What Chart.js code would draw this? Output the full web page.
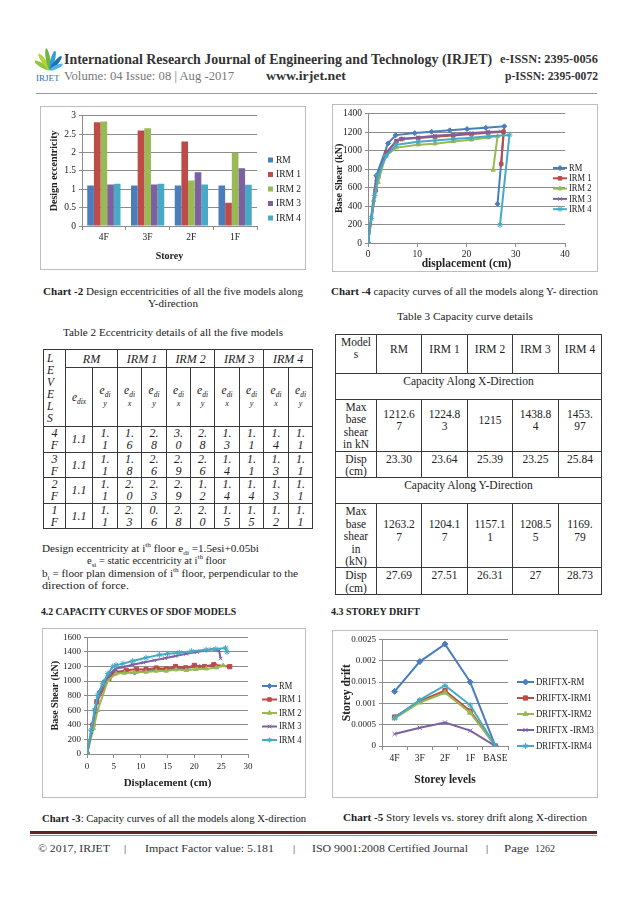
<!DOCTYPE html>
<html>
<head>
<meta charset="utf-8">
<script src="https://cdn.jsdelivr.net/npm/chart.js@4.4.0/dist/chart.umd.min.js"></script>
<style>
body{margin:0;background:#fff;}
#page{position:relative;width:638px;height:902px;overflow:hidden;background:#fff;font-family:'Liberation Serif',serif;color:#222;}
.t{position:absolute;white-space:nowrap;font-size:11px;line-height:13px;transform-origin:0 50%;}
.box{position:absolute;border:1px solid #bdbdbd;background:#fff;}
.box canvas{position:absolute;left:0;top:0;}
table{position:absolute;border-collapse:collapse;table-layout:fixed;font-family:'Liberation Serif',serif;color:#222;}
td{border:1px solid #3a3a3a;padding:0;text-align:center;overflow:hidden;}
#t2 td{font-style:italic;font-size:11.5px;line-height:12px;vertical-align:middle;}
#t3 td{font-size:11.5px;line-height:12.4px;vertical-align:top;}
sub,sup{font-size:65%;line-height:0;}
.sm{font-size:8px;}
</style>
</head>
<body>
<div id="page">

<!-- header -->
<svg style="position:absolute;left:35px;top:43px" width="30" height="40" viewBox="0 0 30 40">
  <g transform="translate(15,27)">
    <ellipse rx="2.2" ry="9" transform="rotate(-60) translate(0,-9)" fill="#8cc63f"/>
    <ellipse rx="2.2" ry="10" transform="rotate(-35) translate(0,-10)" fill="#b5d334"/>
    <ellipse rx="2.2" ry="11" transform="rotate(-10) translate(0,-11)" fill="#6fb43f"/>
    <ellipse rx="2.2" ry="10" transform="rotate(15) translate(0,-10)" fill="#2e9fd8"/>
    <ellipse rx="2.2" ry="9" transform="rotate(40) translate(0,-9)" fill="#1f6fb5"/>
    <ellipse rx="2" ry="7" transform="rotate(65) translate(0,-7)" fill="#4bb6e0"/>
  </g>
  <text x="1" y="38" font-family="Liberation Serif" font-size="9" fill="#2a6ebb">IRJET</text>
</svg>
<div class="t" style="left:64px;top:52px;font-size:15px;line-height:15px;font-weight:bold;color:#333" data-w="428">International Research Journal of Engineering and Technology (IRJET)</div>
<div class="t" style="left:500px;top:53px;font-size:11.5px;font-weight:bold;color:#333" data-w="98">e-ISSN: 2395-0056</div>
<div class="t" style="left:64px;top:70px;font-size:11.5px;color:#777" data-w="170">Volume: 04 Issue: 08 | Aug -2017</div>
<div class="t" style="left:266px;top:70px;font-size:11.5px;font-weight:bold;color:#333" data-w="80">www.irjet.net</div>
<div class="t" style="left:505px;top:70px;font-size:11.5px;font-weight:bold;color:#333" data-w="93">p-ISSN: 2395-0072</div>
<div style="position:absolute;left:36px;top:93px;width:561px;height:1px;background:#9a9a9a"></div>

<!-- charts -->
<div class="box" style="left:40px;top:106px;width:264px;height:162px"><canvas id="c2"></canvas></div>
<div class="box" style="left:332px;top:104px;width:264px;height:166px"><canvas id="c4"></canvas></div>
<div class="box" style="left:42px;top:628px;width:262px;height:168px"><canvas id="c3"></canvas></div>
<div class="box" style="left:332px;top:630px;width:264px;height:166px"><canvas id="c5"></canvas></div>

<!-- captions and text -->
<div class="t" style="left:43px;top:285px" data-w="260"><b>Chart -2</b> Design eccentricities of all the five models along</div>
<div class="t" style="left:148px;top:297px" data-w="50">Y-direction</div>
<div class="t" style="left:331px;top:285px" data-w="267"><b>Chart -4</b> capacity curves of all the models along Y- direction</div>
<div class="t" style="left:63px;top:326px" data-w="220">Table 2 Eccentricity details of all the five models</div>
<div class="t" style="left:397px;top:310px" data-w="136">Table 3 Capacity curve details</div>

<table id="t2" style="left:43px;top:349px;width:269px"></table>
<table id="t3" style="left:335px;top:334px;width:266px"></table>

<div class="t" style="left:42px;top:542px" data-w="217">Design eccentricity at i<sup>th</sup> floor e<sub>di</sub> =1.5esi+0.05bi</div>
<div class="t" style="left:87px;top:554px" data-w="139">e<sub>si</sub> = static eccentricity at i<sup>th</sup> floor</div>
<div class="t" style="left:42px;top:567px" data-w="256">b<sub>i</sub> = floor plan dimension of i<sup>th</sup> floor, perpendicular to the</div>
<div class="t" style="left:42px;top:579px" data-w="87">direction of force.</div>

<div class="t" style="left:41px;top:605px;font-weight:bold" data-w="195">4.2 CAPACITY CURVES OF SDOF MODELS</div>
<div class="t" style="left:331px;top:605px;font-weight:bold" data-w="89">4.3 STOREY DRIFT</div>

<div class="t" style="left:42px;top:812px" data-w="264"><b>Chart -3</b>: Capacity curves of all the models along X-direction</div>
<div class="t" style="left:343px;top:811px" data-w="244"><b>Chart -5</b> Story levels vs. storey drift along X-direction</div>

<!-- footer -->
<div style="position:absolute;left:30px;top:831px;width:567px;height:3px;background:#5e2323"></div>
<div style="position:absolute;left:30px;top:835px;width:567px;height:1px;background:#b08080"></div>
<div class="t" style="left:38px;top:842px;color:#333" data-w="72">© 2017, IRJET</div>
<div class="t" style="left:124px;top:842px;color:#333">|</div>
<div class="t" style="left:145px;top:842px;color:#333" data-w="129">Impact Factor value: 5.181</div>
<div class="t" style="left:293px;top:842px;color:#333">|</div>
<div class="t" style="left:312px;top:842px;color:#333" data-w="156">ISO 9001:2008 Certified Journal</div>
<div class="t" style="left:486px;top:842px;color:#333">|</div>
<div class="t" style="left:504px;top:842px;color:#333" data-w="25">Page</div>
<div class="t" style="left:535px;top:842px;color:#333" data-w="20">1262</div>
</div>

<script>
// ---- chart 2: design eccentricity, Y-direction
const storeys = ['4F', '3F', '2F', '1F'];
const eccRM = [1.1, 1.1, 1.1, 1.1];
const eccIRM1 = [2.82, 2.6, 2.3, 0.63];
const eccIRM2 = [2.84, 2.66, 1.24, 1.99];
const eccIRM3 = [1.13, 1.13, 1.46, 1.57];
const eccIRM4 = [1.15, 1.15, 1.13, 1.12];

// ---- chart 4: capacity curves, Y-direction (disp cm / base shear kN)
const rmYDisp = [0, 1.7, 4.07, 5.63, 9.5, 12.9, 16.6, 20.1, 23.9, 27.69, 26.3];
const rmYShear = [0, 730, 1079, 1168, 1190, 1205, 1220, 1234, 1248, 1263.27, 424];
const irm1YDisp = [0, 1.57, 2.04, 3.7, 5.77, 6.8, 10.2, 13.6, 17.3, 21.0, 24.4, 27.51, 27.05];
const irm1YShear = [0, 570, 712, 980, 1104, 1125, 1136, 1150, 1165, 1180, 1195, 1204.17, 855];
const irm2YDisp = [0, 1.16, 2.04, 3.6, 5.77, 10.2, 13.6, 17.3, 21.0, 24.4, 26.31, 25.4];
const irm2YShear = [0, 463, 659, 944, 1033, 1065, 1075, 1100, 1118, 1143, 1157.11, 791];
const irm3YDisp = [0, 1.7, 3.7, 5.77, 7.1, 10.2, 13.6, 17.3, 21.0, 24.4, 27];
const irm3YShear = [0, 695, 962, 1110, 1130, 1142, 1160, 1175, 1190, 1202, 1208.55];
const irm4YDisp = [0, 0.68, 1.36, 2.04, 3.7, 5.77, 10.2, 13.6, 17.3, 21.0, 24.4, 28.73, 26.8];
const irm4YShear = [0, 267, 516, 730, 944, 1065, 1095, 1110, 1125, 1140, 1155, 1169.79, 196];

// ---- chart 3: capacity curves, X-direction
const rmXDisp = [0, 0.9, 1.5, 2.2, 3.2, 4.3, 5.2, 7.0, 8.85, 11.0, 13.5, 16.0, 18.5, 21.0, 23.3];
const rmXShear = [0, 330, 620, 850, 1000, 1100, 1140, 1125, 1112, 1140, 1160, 1170, 1185, 1200, 1212.67];
const irm1XDisp = [0, 1.09, 1.83, 4.07, 5.1, 7.3, 9.2, 11.0, 12.9, 14.75, 16.5, 18.4, 20.0, 21.9, 23.64, 26.6];
const irm1XShear = [0, 397, 716, 1035, 1112, 1149, 1162, 1158, 1180, 1168, 1200, 1182, 1215, 1200, 1224.83, 1198];
const irm2XDisp = [0, 1.2, 2.0, 3.9, 5.4, 7.0, 8.85, 11.0, 12.9, 14.75, 16.6, 18.5, 20.3, 22.2, 24.1, 25.39];
const irm2XShear = [0, 351, 602, 1012, 1103, 1112, 1121, 1126, 1140, 1140, 1158, 1149, 1162, 1171, 1185, 1215];
const irm3XDisp = [0, 0.8, 1.5, 2.3, 3.3, 4.4, 5.3, 6.8, 8.5, 10.5, 12.5, 14.5, 16.5, 18.5, 20.5, 22.0, 23.25, 24.6, 24.9];
const irm3XShear = [0, 300, 590, 830, 990, 1110, 1170, 1195, 1225, 1255, 1285, 1315, 1345, 1375, 1400, 1420, 1438.84, 1420, 1310];
const irm4XDisp = [0, 0.78, 1.4, 2.0, 2.95, 3.9, 4.8, 5.4, 6.7, 8.5, 11.0, 13.5, 15.0, 17.2, 19.5, 22.2, 24.0, 25.84, 26.1];
const irm4XShear = [0, 328, 602, 807, 966, 1103, 1200, 1220, 1240, 1275, 1320, 1360, 1375, 1390, 1410, 1430, 1440, 1453.97, 1400];

// ---- chart 5: storey drift, X-direction
const driftLevels = ['4F', '3F', '2F', '1F', 'BASE'];
const driftRM = [0.00128, 0.00198, 0.00239, 0.0015, 0];
const driftIRM1 = [0.00068, 0.00105, 0.0013, 0.00082, 0];
const driftIRM2 = [0.00065, 0.00102, 0.00125, 0.00078, 0];
const driftIRM3 = [0.00028, 0.00043, 0.00055, 0.00036, 0];
const driftIRM4 = [0.00066, 0.00108, 0.00142, 0.00096, 0];
const driftNames = ['DRIFTX-RM', 'DRIFTX-IRM1', 'DRIFTX-IRM2', 'DRIFTX -IRM3', 'DRIFTX-IRM4'];

// ---- tables
const t2Levels = ['4F', '3F', '2F', '1F'];
const t2Values = [
  ['1.1', '1.1', '1.6', '2.8', '3.0', '2.8', '1.3', '1.1', '1.4', '1.1'],
  ['1.1', '1.1', '1.8', '2.6', '2.9', '2.6', '1.4', '1.1', '1.3', '1.1'],
  ['1.1', '1.1', '2.0', '2.3', '2.9', '1.2', '1.4', '1.4', '1.3', '1.1'],
  ['1.1', '1.1', '2.3', '0.6', '2.8', '2.0', '1.5', '1.5', '1.2', '1.1']
];
const models = ['RM', 'IRM 1', 'IRM 2', 'IRM 3', 'IRM 4'];
const maxShearX = ['1212.6<br>7', '1224.8<br>3', '1215', '1438.8<br>4', '1453.<br>97'];
const dispX = ['23.30', '23.64', '25.39', '23.25', '25.84'];
const maxShearY = ['1263.2<br>7', '1204.1<br>7', '1157.1<br>1', '1208.5<br>5', '1169.<br>79'];
const dispY = ['27.69', '27.51', '26.31', '27', '28.73'];

const serif = "'Liberation Serif', 'Times New Roman', serif";
const colors = ['#4A7EBB', '#BE4B48', '#98B954', '#7D60A0', '#46AAC5'];
const markers = ['rectRot', 'rect', 'triangle', 'crossRot', 'star'];
const gridCol = '#8c8c8c';

// legend drawn at fixed spot like the Excel one
const sideLegend = {
  id: 'sideLegend',
  afterDraw(chart, args, o) {
    if (!o || o.x == null) return;
    const ctx = chart.ctx;
    ctx.save();
    ctx.font = o.size + 'px ' + serif;
    ctx.textBaseline = 'middle';
    chart.data.datasets.forEach((ds, i) => {
      const y = o.y + i * o.dy;
      const c = colors[i];
      ctx.fillStyle = c; ctx.strokeStyle = c;
      let tx;
      if (o.box) {
        ctx.fillRect(o.x, y - o.box / 2, o.box, o.box);
        tx = o.x + o.box + 3;
      } else {
        ctx.lineWidth = 2;
        ctx.beginPath(); ctx.moveTo(o.x, y); ctx.lineTo(o.x + o.len, y); ctx.stroke();
        ctx.lineWidth = 1;
        Chart.helpers.drawPoint(ctx, {pointStyle: markers[i], radius: o.r, rotation: 0, borderWidth: 1}, o.x + o.len / 2, y);
        tx = o.x + o.len + 2;
      }
      ctx.fillStyle = '#222';
      ctx.save();
      ctx.translate(tx, y);
      ctx.scale(o.sq || 1, 1);
      ctx.fillText(ds.label, 0, 0);
      ctx.restore();
    });
    ctx.restore();
  }
};
Chart.register(sideLegend);

function f(size, bold) { return {family: serif, size: size, weight: bold ? 'bold' : 'normal'}; }

function yAxis(min, max, step, title, tsize, w, tpad, fsize, cb) {
  return {
    min: min, max: max,
    ticks: {stepSize: step, font: f(fsize), color: '#222', padding: 3, callback: cb},
    grid: {color: gridCol, tickLength: 3},
    border: {color: gridCol},
    title: {display: true, text: title, font: f(tsize, true), color: '#222', padding: {top: tpad, bottom: 0}},
    afterFit(s) { s.width = w; }
  };
}
function xAxis(extra, title, tsize, h, bpad) {
  return Object.assign({
    ticks: {font: f(9.5), color: '#222', padding: 2},
    grid: {drawOnChartArea: false, color: gridCol, tickLength: 4},
    border: {color: gridCol},
    title: {display: true, text: title, font: f(tsize, true), color: '#222', padding: {top: 0, bottom: bpad}},
    afterFit(s) { s.height = h; }
  }, extra);
}
function curve(i, label, xs, ys, r) {
  return {
    label: label, data: xs.map((x, k) => ({x: x, y: ys[k]})),
    borderColor: colors[i], backgroundColor: colors[i],
    pointBackgroundColor: colors[i], pointBorderColor: colors[i],
    pointStyle: markers[i], pointRadius: r, pointBorderWidth: 1,
    borderWidth: 2, order: 5 - i
  };
}
function setSize(id, w, h) { const c = document.getElementById(id); c.width = w; c.height = h; return c; }
const base = {responsive: false, animation: false, events: []};

// chart 2
new Chart(setSize('c2', 264, 162), {
  type: 'bar',
  data: {
    labels: storeys,
    datasets: [eccRM, eccIRM1, eccIRM2, eccIRM3, eccIRM4].map((d, i) => ({
      label: models[i], data: d, backgroundColor: colors[i], borderWidth: 0
    }))
  },
  options: Object.assign({}, base, {
    categoryPercentage: 0.76, barPercentage: 1,
    layout: {padding: {top: 8, right: 48, left: 0, bottom: 0}},
    plugins: {legend: {display: false}, tooltip: {enabled: false},
      sideLegend: {x: 227, y: 53, dy: 14.5, box: 5, size: 10, sq: 0.95}},
    scales: {
      x: xAxis({grid: {drawOnChartArea: false, color: gridCol, tickLength: 4, offset: true}}, 'Storey', 10, 43, 7),
      y: yAxis(0, 3, 0.5, 'Design eccentricity', 10, 41, 7, 9.5)
    }
  })
});

// chart 4
new Chart(setSize('c4', 264, 166), {
  type: 'line',
  data: {datasets: [
    curve(0, 'RM', rmYDisp, rmYShear, 2.5),
    curve(1, 'IRM 1', irm1YDisp, irm1YShear, 2.5),
    curve(2, 'IRM 2', irm2YDisp, irm2YShear, 2.5),
    curve(3, 'IRM 3', irm3YDisp, irm3YShear, 2.5),
    curve(4, 'IRM 4', irm4YDisp, irm4YShear, 3)
  ]},
  options: Object.assign({}, base, {
    layout: {padding: {top: 7, right: 32, left: 0, bottom: 0}},
    plugins: {legend: {display: false}, tooltip: {enabled: false},
      sideLegend: {x: 220, y: 63, dy: 10.3, len: 14, r: 2.5, size: 10, sq: 0.85}},
    scales: {
      x: xAxis({type: 'linear', min: 0, max: 40, ticks: {stepSize: 10, font: f(9.5), color: '#222', padding: 2}}, 'displacement (cm)', 11.5, 28, 0),
      y: yAxis(0, 1400, 200, 'Base Shear (kN)', 10, 35, 0, 9.5)
    }
  })
});

// chart 3
new Chart(setSize('c3', 262, 168), {
  type: 'line',
  data: {datasets: [
    curve(0, 'RM', rmXDisp, rmXShear, 2),
    curve(1, 'IRM 1', irm1XDisp, irm1XShear, 3),
    curve(2, 'IRM 2', irm2XDisp, irm2XShear, 2.5),
    curve(3, 'IRM 3', irm3XDisp, irm3XShear, 2.5),
    curve(4, 'IRM 4', irm4XDisp, irm4XShear, 3)
  ]},
  options: Object.assign({}, base, {
    layout: {padding: {top: 8, right: 57, left: 0, bottom: 0}},
    plugins: {legend: {display: false}, tooltip: {enabled: false},
      sideLegend: {x: 219, y: 57, dy: 13.5, len: 15, r: 2.5, size: 10, sq: 0.85}},
    scales: {
      x: xAxis({type: 'linear', min: 0, max: 30, ticks: {stepSize: 5, font: f(9), color: '#222', padding: 3}}, 'Displacement (cm)', 11, 43, 7),
      y: yAxis(0, 1600, 200, 'Base Shear (kN)', 10, 44, 6, 9)
    }
  })
});

// chart 5
new Chart(setSize('c5', 264, 166), {
  type: 'line',
  data: {
    labels: driftLevels,
    datasets: [driftRM, driftIRM1, driftIRM2, driftIRM3, driftIRM4].map((d, i) => ({
      label: driftNames[i],
      data: d, borderColor: colors[i], backgroundColor: colors[i],
      pointBackgroundColor: colors[i], pointBorderColor: colors[i],
      pointStyle: markers[i], pointRadius: 3, pointBorderWidth: 1, borderWidth: 2, order: 5 - i
    }))
  },
  options: Object.assign({}, base, {
    layout: {padding: {top: 8, right: 89, left: 0, bottom: 0}},
    plugins: {legend: {display: false}, tooltip: {enabled: false},
      sideLegend: {x: 184, y: 51, dy: 16, len: 17, r: 3, size: 11, sq: 0.8}},
    scales: {
      x: xAxis({offset: true, grid: {drawOnChartArea: false, color: gridCol, tickLength: 4, offset: true},
        ticks: {font: f(9.5), color: '#222', padding: 3, maxRotation: 0, minRotation: 0, autoSkip: false}},
        'Storey levels', 11.5, 51, 10),
      y: yAxis(0, 0.0025, 0.0005, 'Storey drift', 11.5, 49, 7, 9, v => v === 0 ? '0' : String(+v.toFixed(4)))
    }
  })
});

// table 2
(function () {
  const widths = [22, 27, 25, 24, 25, 24, 24, 25, 24, 25, 24];
  let h = '<colgroup>' + widths.map(w => '<col style="width:' + w + 'px">').join('') + '</colgroup>';
  h += '<tr style="height:18px"><td rowspan="2" style="vertical-align:top;text-align:left;padding:2px 0 0 3px;line-height:12px">L<br>E<br>V<br>E<br>L<br>S</td>';
  models.forEach(m => { h += '<td colspan="2" style="font-size:12px">' + m + '</td>'; });
  h += '</tr><tr style="height:59px"><td>e<sub>dix</sub></td>';
  for (let k = 0; k < 9; k++) h += '<td>e<sub>di</sub><br><span class="sm">' + (k % 2 === 0 ? 'y' : 'x') + '</span></td>';
  h += '</tr>';
  t2Levels.forEach((lv, r) => {
    h += '<tr style="height:25.5px"><td style="font-size:12px">' + lv[0] + '<br>' + lv[1] + '</td>';
    t2Values[r].forEach((v, k) => {
      h += '<td style="font-size:12px">' + (k === 0 ? v : v.slice(0, 2) + '<br>' + v.slice(2)) + '</td>';
    });
    h += '</tr>';
  });
  document.getElementById('t2').innerHTML = h;
})();

// table 3
(function () {
  const widths = [41, 45, 46, 45, 46, 43];
  let h = '<colgroup>' + widths.map(w => '<col style="width:' + w + 'px">').join('') + '</colgroup>';
  const row = (ht, label, vals, pad, padSpecial) => {
    let s = '<tr style="height:' + ht + 'px"><td style="padding-top:1px">' + label + '</td>';
    vals.forEach(v => {
      const p = (padSpecial && v.indexOf('<br>') < 0) ? padSpecial : pad;
      s += '<td style="padding-top:' + p + 'px">' + v + '</td>';
    });
    return s + '</tr>';
  };
  const span = (ht, txt) => '<tr style="height:' + ht + 'px"><td colspan="6" style="padding-top:1px">' + txt + '</td></tr>';
  h += row(39, 'Model<br>s', models, 8);
  h += span(26, 'Capacity Along X-Direction');
  h += row(51, 'Max<br>base<br>shear<br>in kN', maxShearX, 8, 14);
  h += row(26, 'Disp<br>(cm)', dispX, 1);
  h += span(26, 'Capacity Along Y-Direction');
  h += row(63, 'Max<br>base<br>shear<br>in<br>(kN)', maxShearY, 14);
  h += row(27, 'Disp<br>(cm)', dispY, 1);
  document.getElementById('t3').innerHTML = h;
})();

// squeeze/stretch text lines to the measured widths
document.querySelectorAll('[data-w]').forEach(el => {
  const w = el.getBoundingClientRect().width;
  if (w > 0) el.style.transform = 'scaleX(' + (+el.dataset.w / w).toFixed(3) + ')';
});
</script>
</body>
</html>
